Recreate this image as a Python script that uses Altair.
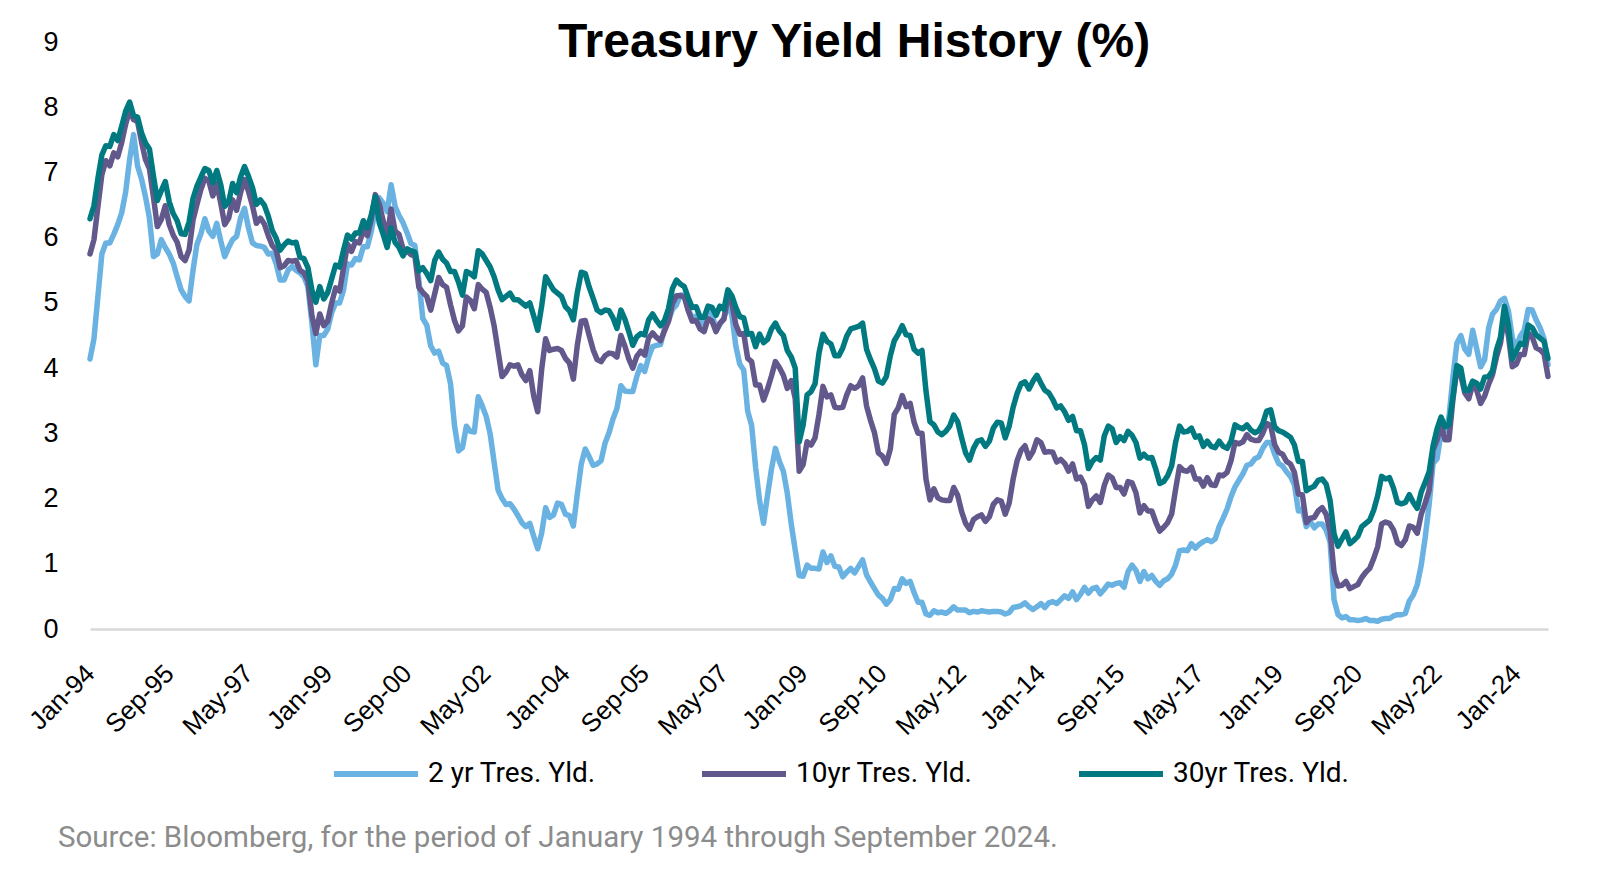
import altair as alt
import pandas as pd

TITLE = "Treasury Yield History (%)"
SOURCE = "Source: Bloomberg, for the period of January 1994 through September 2024."
SERIES = ["2 yr Tres. Yld.", "10yr Tres. Yld.", "30yr Tres. Yld."]
COLORS = ["#69B2E2", "#62588C", "#007A80"]
TICK_LABELS = ["Jan-94", "Sep-95", "May-97", "Jan-99", "Sep-00", "May-02", "Jan-04",
               "Sep-05", "May-07", "Jan-09", "Sep-10", "May-12", "Jan-14", "Sep-15",
               "May-17", "Jan-19", "Sep-20", "May-22", "Jan-24"]
Y_TICKS = [0, 1, 2, 3, 4, 5, 6, 7, 8, 9]

# monthly values, Jan 1994 .. Sep 2024
YIELD_2Y = [
    4.14, 4.45, 5.10, 5.75, 5.92, 5.92, 6.05, 6.20, 6.38, 6.70, 7.20, 7.58,
    7.10, 6.90, 6.63, 6.30, 5.71, 5.75, 5.97, 5.85, 5.75, 5.61, 5.40, 5.20,
    5.10, 5.03, 5.50, 5.90, 6.06, 6.29, 6.10, 6.02, 6.22, 5.95, 5.71, 5.85,
    5.97, 6.02, 6.30, 6.45, 6.15, 5.92, 5.88, 5.87, 5.85, 5.75, 5.76, 5.60,
    5.35, 5.35, 5.50, 5.56, 5.50, 5.46, 5.40, 5.25, 4.70, 4.05, 4.50, 4.50,
    4.60, 4.85, 5.00, 5.00, 5.20, 5.60, 5.58, 5.68, 5.66, 5.86, 5.86, 6.10,
    6.44, 6.61, 6.53, 6.40, 6.81, 6.48, 6.34, 6.23, 6.08, 5.91, 5.88, 5.35,
    4.76, 4.66, 4.34, 4.23, 4.26, 4.08, 4.04, 3.76, 3.12, 2.73, 2.78, 3.11,
    3.03, 3.02, 3.56, 3.42, 3.26, 2.99, 2.56, 2.13, 2.00, 1.91, 1.92, 1.84,
    1.74, 1.63, 1.57, 1.62, 1.42, 1.23, 1.47, 1.86, 1.71, 1.75, 1.93, 1.91,
    1.76, 1.74, 1.58, 2.07, 2.53, 2.76, 2.64, 2.51, 2.53, 2.58, 2.85, 3.01,
    3.22, 3.38, 3.73, 3.65, 3.64, 3.64, 3.87, 4.04, 3.95, 4.17, 4.33, 4.35,
    4.36, 4.61, 4.72, 4.90, 4.97, 5.12, 5.12, 4.90, 4.77, 4.80, 4.74, 4.67,
    4.88, 4.85, 4.57, 4.67, 4.77, 4.96, 4.82, 4.34, 4.06, 3.97, 3.34, 3.12,
    2.48, 1.97, 1.62, 2.05, 2.45, 2.77, 2.57, 2.42, 2.08, 1.61, 1.21, 0.82,
    0.81, 0.98, 0.93, 0.93, 0.92, 1.18, 1.02, 1.12, 0.96, 0.95, 0.80, 0.87,
    0.93, 0.86, 0.96, 1.06, 0.83, 0.72, 0.62, 0.52, 0.47, 0.38, 0.45, 0.62,
    0.61, 0.77, 0.70, 0.73, 0.56, 0.41, 0.41, 0.23, 0.21, 0.28, 0.25, 0.26,
    0.24, 0.28, 0.34, 0.29, 0.29, 0.29, 0.25, 0.27, 0.26, 0.28, 0.27, 0.26,
    0.27, 0.27, 0.26, 0.23, 0.25, 0.33, 0.34, 0.36, 0.40, 0.34, 0.30, 0.34,
    0.39, 0.33, 0.40, 0.42, 0.39, 0.45, 0.51, 0.47, 0.57, 0.45, 0.53, 0.64,
    0.55, 0.62, 0.64, 0.54, 0.61, 0.69, 0.67, 0.70, 0.71, 0.64, 0.88, 0.98,
    0.90, 0.73, 0.88, 0.77, 0.82, 0.73, 0.67, 0.74, 0.77, 0.84, 0.98, 1.20,
    1.21, 1.20, 1.31, 1.24, 1.30, 1.34, 1.37, 1.34, 1.38, 1.57, 1.70, 1.84,
    2.03, 2.18, 2.28, 2.38, 2.51, 2.53, 2.61, 2.64, 2.77, 2.86, 2.86, 2.68,
    2.54, 2.50, 2.41, 2.34, 2.21, 1.81, 1.84, 1.57, 1.65, 1.55, 1.61, 1.61,
    1.52, 1.33, 0.45, 0.22, 0.17, 0.19, 0.14, 0.14, 0.13, 0.14, 0.16, 0.13,
    0.13, 0.12, 0.15, 0.16, 0.16, 0.20, 0.22, 0.22, 0.24, 0.43, 0.52, 0.68,
    0.98, 1.40, 1.91, 2.54, 2.61, 3.00, 3.03, 3.25, 3.86, 4.38, 4.50, 4.29,
    4.21, 4.58, 4.30, 4.02, 4.13, 4.61, 4.83, 4.90, 5.03, 5.07, 4.88, 4.46,
    4.32, 4.49, 4.58, 4.90, 4.89, 4.74, 4.62, 4.45, 4.05,
]
YIELD_10Y = [
    5.75, 5.97, 6.48, 6.97, 7.18, 7.10, 7.30, 7.24, 7.46, 7.74, 7.96, 7.81,
    7.78, 7.47, 7.20, 7.06, 6.63, 6.17, 6.28, 6.49, 6.20, 6.04, 5.93, 5.71,
    5.65, 5.81, 6.27, 6.51, 6.74, 6.91, 6.87, 6.64, 6.83, 6.53, 6.20, 6.30,
    6.58, 6.42, 6.69, 6.89, 6.71, 6.49, 6.22, 6.30, 6.21, 6.03, 5.88, 5.81,
    5.54, 5.57, 5.65, 5.64, 5.65, 5.50, 5.46, 5.34, 4.81, 4.53, 4.83, 4.65,
    4.72, 5.00, 5.23, 5.18, 5.54, 5.90, 5.79, 5.94, 5.92, 6.11, 6.03, 6.28,
    6.66, 6.52, 6.26, 5.99, 6.44, 6.10, 6.05, 5.83, 5.80, 5.74, 5.72, 5.24,
    5.16, 5.10, 4.89, 5.14, 5.39, 5.28, 5.24, 4.97, 4.73, 4.57, 4.65, 5.09,
    5.04, 4.91, 5.28, 5.21, 5.16, 4.93, 4.65, 4.26, 3.87, 3.94, 4.05, 4.03,
    4.05, 3.90, 3.81, 3.96, 3.57, 3.33, 3.98, 4.45, 4.27, 4.29, 4.30, 4.27,
    4.15, 4.08, 3.83, 4.35, 4.72, 4.73, 4.50, 4.28, 4.13, 4.10, 4.19, 4.23,
    4.22, 4.17, 4.50, 4.34, 4.14, 4.00, 4.18, 4.26, 4.20, 4.46, 4.54, 4.47,
    4.42, 4.57, 4.72, 4.99, 5.11, 5.11, 5.09, 4.88, 4.72, 4.73, 4.60, 4.56,
    4.76, 4.72, 4.56, 4.69, 4.75, 5.10, 5.00, 4.67, 4.52, 4.53, 4.15, 4.10,
    3.74, 3.74, 3.51, 3.68, 3.88, 4.10, 4.01, 3.89, 3.69, 3.81, 3.53, 2.42,
    2.52, 2.87, 2.82, 2.93, 3.29, 3.72, 3.56, 3.59, 3.40, 3.39, 3.40, 3.59,
    3.73, 3.69, 3.73, 3.85, 3.42, 3.20, 3.01, 2.70, 2.65, 2.54, 2.76, 3.29,
    3.39, 3.58, 3.41, 3.46, 3.17, 3.00, 3.00, 2.30, 1.98, 2.15, 2.01, 1.98,
    1.97, 1.97, 2.17, 2.05, 1.80, 1.62, 1.53, 1.68, 1.72, 1.75, 1.65, 1.72,
    1.91, 1.98, 1.96, 1.76, 1.93, 2.30, 2.58, 2.74, 2.81, 2.62, 2.72, 2.90,
    2.86, 2.71, 2.72, 2.71, 2.56, 2.60, 2.54, 2.42, 2.53, 2.30, 2.33, 2.21,
    1.88, 1.98, 2.04, 1.94, 2.20, 2.36, 2.32, 2.17, 2.17, 2.07, 2.26, 2.24,
    2.09, 1.78, 1.89, 1.81, 1.81, 1.64, 1.50, 1.56, 1.63, 1.76, 2.14, 2.49,
    2.43, 2.42, 2.48, 2.30, 2.30, 2.19, 2.32, 2.21, 2.20, 2.36, 2.35, 2.40,
    2.58, 2.86, 2.84, 2.87, 2.98, 2.91, 2.89, 2.89, 3.00, 3.15, 3.12, 2.83,
    2.71, 2.68, 2.57, 2.53, 2.40, 2.07, 2.06, 1.63, 1.70, 1.71, 1.81, 1.86,
    1.76, 1.50, 0.87, 0.66, 0.67, 0.73, 0.62, 0.65, 0.68, 0.79, 0.87, 0.93,
    1.08, 1.26, 1.61, 1.64, 1.62, 1.52, 1.32, 1.28, 1.37, 1.58, 1.56, 1.47,
    1.76, 1.93, 2.13, 2.75, 2.90, 3.14, 2.90, 2.90, 3.52, 3.98, 3.89, 3.62,
    3.53, 3.75, 3.66, 3.46, 3.57, 3.75, 3.90, 4.17, 4.38, 4.80, 4.50, 4.02,
    4.06, 4.21, 4.21, 4.54, 4.48, 4.31, 4.28, 4.22, 3.87,
]
YIELD_30Y = [
    6.29, 6.49, 6.91, 7.27, 7.41, 7.40, 7.58, 7.49, 7.71, 7.94, 8.08, 7.87,
    7.85, 7.61, 7.45, 7.36, 6.95, 6.57, 6.72, 6.86, 6.55, 6.37, 6.26, 6.06,
    6.05, 6.24, 6.60, 6.79, 6.93, 7.06, 7.03, 6.84, 7.03, 6.81, 6.48, 6.55,
    6.83, 6.69, 6.93, 7.09, 6.94, 6.77, 6.51, 6.58, 6.50, 6.33, 6.11, 5.99,
    5.81, 5.89, 5.95, 5.92, 5.93, 5.70, 5.68, 5.54, 5.20, 5.01, 5.25, 5.06,
    5.16, 5.37, 5.58, 5.55, 5.81, 6.04, 5.98, 6.07, 6.07, 6.26, 6.15, 6.35,
    6.63, 6.23, 6.05, 5.85, 6.15, 5.93, 5.85, 5.72, 5.83, 5.80, 5.78, 5.49,
    5.54, 5.45, 5.34, 5.65, 5.78, 5.67, 5.61, 5.48, 5.48, 5.32, 5.12, 5.48,
    5.45, 5.40, 5.80, 5.75, 5.65, 5.55, 5.40, 5.20, 5.05, 5.10, 5.15, 5.05,
    5.05, 5.00, 4.95, 5.00, 4.80, 4.58, 4.95, 5.40, 5.30, 5.20, 5.15, 5.10,
    4.94, 4.88, 4.74, 5.16, 5.47, 5.45, 5.24, 5.07, 4.89, 4.85, 4.89, 4.88,
    4.77, 4.61, 4.89, 4.75, 4.56, 4.35, 4.48, 4.53, 4.51, 4.74, 4.83, 4.73,
    4.65, 4.73, 4.91, 5.22, 5.35, 5.29, 5.25, 5.08, 4.93, 4.94, 4.78, 4.78,
    4.95, 4.93, 4.81, 4.95, 4.90, 5.20, 5.11, 4.93, 4.79, 4.77, 4.52, 4.53,
    4.33, 4.52, 4.39, 4.44, 4.60, 4.69, 4.57, 4.50, 4.27, 4.17, 4.00, 2.87,
    3.13, 3.59, 3.64, 3.76, 4.23, 4.52, 4.41, 4.37, 4.19, 4.19, 4.31, 4.49,
    4.60, 4.62, 4.64, 4.69, 4.29, 4.13, 3.99, 3.80, 3.77, 3.87, 4.19, 4.42,
    4.52, 4.65, 4.51, 4.50, 4.29, 4.23, 4.27, 3.65, 3.18, 3.13, 3.02, 2.98,
    3.03, 3.11, 3.28, 3.18, 2.93, 2.70, 2.59, 2.77, 2.88, 2.90, 2.80, 2.88,
    3.08, 3.17, 3.16, 2.93, 3.11, 3.40, 3.61, 3.76, 3.79, 3.68, 3.80, 3.89,
    3.77, 3.66, 3.62, 3.52, 3.39, 3.42, 3.33, 3.20, 3.26, 3.04, 3.04, 2.83,
    2.46, 2.57, 2.63, 2.59, 2.96, 3.11, 3.07, 2.86, 2.95, 2.89, 3.03, 2.97,
    2.86, 2.62, 2.68, 2.62, 2.63, 2.45, 2.23, 2.26, 2.35, 2.50, 2.86, 3.11,
    3.02, 3.03, 3.08, 2.94, 2.96, 2.80, 2.88, 2.80, 2.78, 2.88, 2.80, 2.77,
    2.88, 3.13, 3.09, 3.07, 3.13, 3.05, 3.01, 3.04, 3.15, 3.34, 3.36, 3.10,
    3.04, 3.02, 2.98, 2.94, 2.82, 2.57, 2.57, 2.12, 2.16, 2.19, 2.28, 2.30,
    2.22, 1.97, 1.46, 1.27, 1.38, 1.49, 1.31, 1.36, 1.42, 1.57, 1.62, 1.67,
    1.82, 2.04, 2.34, 2.30, 2.32, 2.16, 1.94, 1.92, 1.94, 2.06, 1.94, 1.85,
    2.10, 2.25, 2.41, 2.81, 3.07, 3.25, 3.10, 3.13, 3.56, 4.04, 4.00, 3.66,
    3.66, 3.80, 3.77, 3.68, 3.86, 3.87, 3.96, 4.28, 4.47, 4.95, 4.66, 4.14,
    4.26, 4.38, 4.36, 4.66, 4.62, 4.51, 4.46, 4.41, 4.15,
]

n = len(YIELD_2Y)
months = pd.date_range("1994-01-01", periods=n, freq="MS")
rows = []
for name, vals in zip(SERIES, [YIELD_2Y, YIELD_10Y, YIELD_30Y]):
    for i, v in enumerate(vals):
        rows.append({"idx": i, "month": months[i].strftime("%b-%y"),
                     "series": name, "yield": v})
df = pd.DataFrame(rows)

label_array = "[" + ",".join("'" + t + "'" for t in TICK_LABELS) + "]"

x_enc = alt.X(
    "idx:Q",
    scale=alt.Scale(domain=[0, n - 1], nice=False, zero=False),
    axis=alt.Axis(
        values=[i * 20 for i in range(len(TICK_LABELS))],
        labelExpr=label_array + "[round(datum.value / 20)]",
        labelAngle=-45, labelAlign="right", labelBaseline="middle",
        labelFont="Liberation Sans", labelFontSize=26, labelColor="black",
        labelPadding=40, labelOffset=0, ticks=False, tickSize=0, grid=False,
        domainColor="#d9d9d9", domainWidth=2.5, title=None,
        labelOverlap=False, labelFlush=False,
    ),
)
y_enc = alt.Y(
    "yield:Q",
    scale=alt.Scale(domain=[0, 9], nice=False, zero=True),
    axis=alt.Axis(
        values=Y_TICKS, domain=False, ticks=False, tickSize=0, grid=False,
        labelFont="Liberation Sans", labelFontSize=27, labelColor="black",
        labelPadding=32, title=None,
    ),
)
color_enc = alt.Color(
    "series:N",
    scale=alt.Scale(domain=SERIES, range=COLORS),
    legend=alt.Legend(
        title=None, orient="none", legendX=241, legendY=687,
        direction="horizontal", columns=3, symbolType="stroke",
        symbolSize=7056, symbolStrokeWidth=6, labelFont="Roboto",
        labelFontSize=28, labelColor="black", labelOffset=7,
        columnPadding=94, labelLimit=400,
    ),
)

base = alt.Chart(df)
lines = [
    base.transform_filter(alt.datum.series == name)
    .mark_line(strokeWidth=5.5, strokeJoin="round", strokeCap="round")
    .encode(x=x_enc, y=y_enc, color=color_enc,
            tooltip=["month:N", "series:N", "yield:Q"])
    for name in SERIES
]

title = alt.Chart(pd.DataFrame({"t": [TITLE]})).mark_text(
    font="Liberation Sans", fontSize=48, fontWeight="bold",
    align="center", baseline="alphabetic", color="black",
).encode(text="t:N", x=alt.value(764), y=alt.value(15))

source = alt.Chart(pd.DataFrame({"t": [SOURCE]})).mark_text(
    font="Roboto", fontSize=29.5, align="left", baseline="middle", color="#8c8c8c",
).encode(text="t:N", x=alt.value(-32), y=alt.value(796))

chart = alt.layer(*lines, title, source).properties(
    width=1458, height=587,
    autosize=alt.AutoSizeParams(type="none"),
    padding={"left": 90, "top": 42, "right": 60, "bottom": 251},
    background="white",
).configure_view(stroke=None)

chart.save("out.html", embed_options={"renderer": "svg", "actions": False})
